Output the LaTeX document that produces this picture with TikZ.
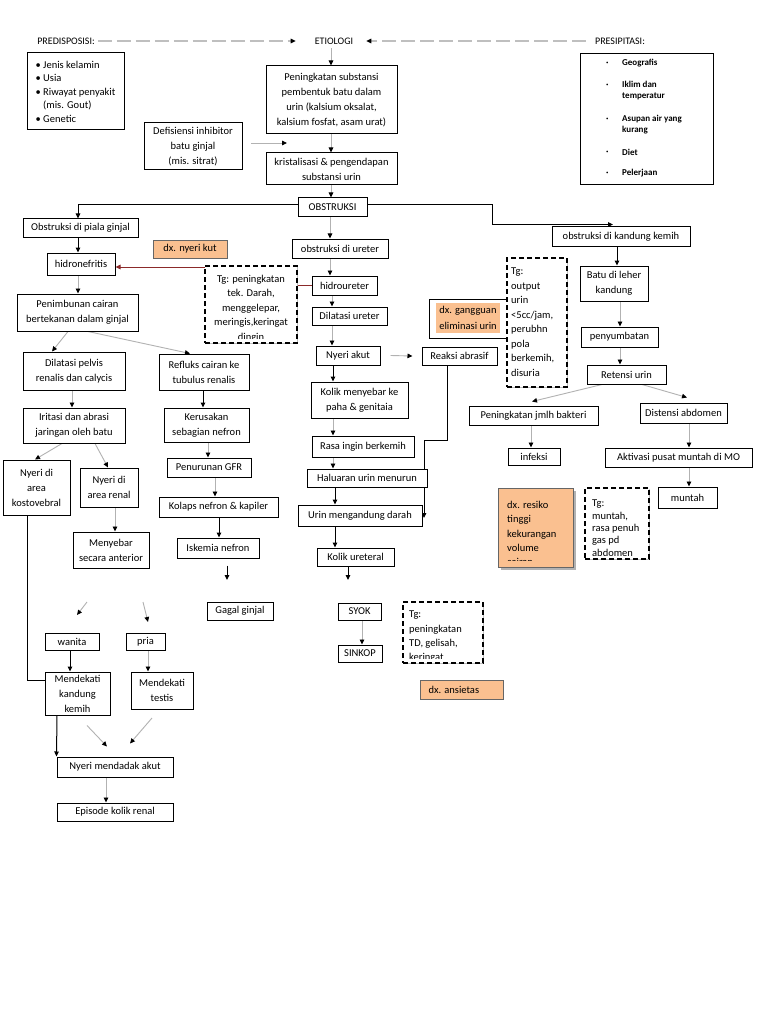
\documentclass[tikz,border=0pt]{standalone}
\usepackage{fontspec}
\setmainfont{Carlito}
\usetikzlibrary{arrows.meta,shadows}
\pgfdeclarelayer{bg}
\pgfsetlayers{bg,main}
\definecolor{peach}{HTML}{FAC090}
\definecolor{dred}{HTML}{8B2A2A}
\newcommand\fs{\fontsize{10.5}{15}\selectfont}
\newcommand\mybx[6][]{\node[box,minimum width=#4pt,minimum height=#5pt,#1] (#2) at (#3) {#6};}
\begin{document}
\begin{tikzpicture}[x=1pt,y=-1pt,
  box/.style={draw=black,line width=1pt,fill=white,inner sep=0pt,align=center,font=\fs},
  orangebox/.style={fill=peach,draw=black!60,line width=0.6pt},
  dashbox/.style={dash pattern=on 5pt off 3pt,line width=1.1pt,
     drop shadow={shadow xshift=1.2pt,shadow yshift=-1.2pt,fill=black!25,opacity=1}},
  lbl/.style={inner sep=1pt,font=\fontsize{10}{12}\selectfont},
  tip/.style={-{Triangle[length=5pt,width=4.5pt,color=black]}},
  arr/.style={draw=black,line width=1pt,tip},
  garr/.style={draw=black!30,line width=0.9pt,tip},
  gdash/.style={draw=black!25,line width=1.2pt,dash pattern=on 14pt off 5pt,tip},
  redarr/.style={draw=dred,line width=0.9pt,-{Triangle[length=5pt,width=4.5pt]}},
  plain/.style={draw=black,line width=1pt},
  tgtext/.style={inner sep=0pt,font=\fontsize{10.5}{14.5}\selectfont},
  pitem/.style={inner sep=0pt,anchor=west,font=\bfseries\fontsize{9}{11}\selectfont},
]
\useasboundingbox (0,0) rectangle (768,1024);
\begin{pgfonlayer}{bg}
\fill[white] (0,0) rectangle (768,1024);
\end{pgfonlayer}

% header labels
\node[lbl] (predl) at (66,41) {PREDISPOSISI:};
\node[lbl] (etio) at (334,41) {ETIOLOGI};
\node[lbl] (presl) at (620,41) {PRESIPITASI:};

% predisposisi box
\mybx[align=left,font=\fontsize{10.5}{13.5}\selectfont]{predbox}{75.5,91.5}{97}{77}{\textbullet\ Jenis kelamin\\ \textbullet\ Usia\\ \textbullet\ Riwayat penyakit\\ \hphantom{\textbullet\ }(mis. Gout)\\ \textbullet\ Genetic}

% presipitasi box
\mybx{presbox}{646.5,119.5}{133}{131}{}
\node[pitem] (pb1) at (606,64) {\textperiodcentered};
\node[pitem] (pb2) at (606,86) {\textperiodcentered};
\node[pitem] (pb3) at (606,120) {\textperiodcentered};
\node[pitem] (pb4) at (606,153) {\textperiodcentered};
\node[pitem] (pb5) at (606,174) {\textperiodcentered};
\node[pitem] (pi1) at (622,63) {Geografis};
\node[pitem] (pi2) at (622,84) {Iklim dan};
\node[pitem] (pi2b) at (622,96) {temperatur};
\node[pitem] (pi3) at (622,119) {Asupan air yang};
\node[pitem] (pi3b) at (622,130) {kurang};
\node[pitem] (pi4) at (622,152) {Diet};
\node[pitem] (pi5) at (622,173) {Pelerjaan};

% main column
\mybx{pen}{331.5,100}{131}{68}{Peningkatan substansi\\pembentuk batu dalam\\urin (kalsium oksalat,\\kalsium fosfat, asam urat)}
\mybx{def}{193,146.5}{98}{47}{Defisiensi inhibitor\\batu ginjal\\(mis. sitrat)}
\mybx{kri}{331.5,169}{131}{32}{kristalisasi \& pengendapan\\substansi urin}
\mybx{obs}{332.5,207.5}{69}{19}{OBSTRUKSI}

% left branch
\mybx{piala}{80.5,228}{115}{18}{Obstruksi di piala ginjal}
\mybx[orangebox]{dxn}{190,249}{74}{18}{dx. nyeri kut}
\mybx{hnf}{81,264}{68}{22}{hidronefritis}
\mybx{pnb}{77.5,312.5}{121}{37}{Penimbunan cairan\\bertekanan dalam ginjal}
\mybx{dpr}{74,371}{102}{38}{Dilatasi pelvis\\renalis dan calycis}
\mybx{ref}{204,372}{90}{36}{Refluks cairan ke\\tubulus renalis}
\mybx{iri}{74,425.5}{102}{35}{Iritasi dan abrasi\\jaringan oleh batu}
\mybx{kos}{36.5,487.5}{67}{55}{Nyeri di\\area\\kostovebral}
\mybx{ren}{109,487.5}{58}{39}{Nyeri di\\area renal}
\mybx{mny}{111,550}{76}{36}{Menyebar\\secara anterior}
\mybx{ker}{206.5,425}{85}{34}{Kerusakan\\sebagian nefron}
\mybx{gfr}{209,467.5}{84}{19}{Penurunan GFR}
\mybx{kol}{218.5,507}{119}{20}{Kolaps nefron \& kapiler}
\mybx{isk}{218,548}{82}{20}{Iskemia nefron}
\mybx{gag}{240,611}{66}{18}{Gagal ginjal}
\mybx{wan}{72,641.5}{54}{17}{wanita}
\mybx{pri}{145.5,641.5}{39}{17}{pria}
\mybx{mk}{77.5,693.5}{65}{43}{Mendekati\\kandung\\kemih}
\mybx{mt}{162,690.5}{62}{37}{Mendekati\\testis}
\mybx{nm}{115,767}{116}{20}{Nyeri mendadak akut}
\mybx{epi}{115,812}{116}{18}{Episode kolik renal}

% middle branch
\mybx{ure}{340,248.5}{96}{19}{obstruksi di ureter}
\mybx{hur}{344.5,285.5}{65}{19}{hidroureter}
\mybx{dur}{349.5,316}{75}{18}{Dilatasi ureter}
\mybx{nak}{348,355.5}{64}{19}{Nyeri akut}
\mybx{rab}{459.5,356}{75}{18}{Reaksi abrasif}
\mybx{kmk}{359.5,400}{97}{36}{Kolik menyebar ke\\paha \& genitaia}
\mybx{rib}{363,446.5}{102}{21}{Rasa ingin berkemih}
\mybx{hal}{367,478}{120}{18}{Haluaran urin menurun}
\mybx{umd}{360,515.5}{124}{21}{Urin mengandung darah}
\mybx{kur}{355.5,557}{77}{18}{Kolik ureteral}
\mybx{syk}{359.5,611.5}{43}{17}{SYOK}
\mybx{snk}{360,653.5}{44}{17}{SINKOP}
\mybx[orangebox]{dxa}{461.5,689.5}{83}{19}{\makebox[66pt][l]{dx. ansietas}}
\mybx{dxgo}{468,318.5}{78}{39}{}
\node[fill=peach,minimum width=64pt,minimum height=30pt,inner sep=0pt,align=left,font=\fontsize{10.5}{16}\selectfont] (dxg) at (468,318) {dx. gangguan\\eliminasi urin};

% right branch
\mybx{okk}{621,236.5}{138}{19}{obstruksi di kandung kemih}
\mybx{bat}{614,283.5}{68}{35}{Batu di leher\\kandung}
\mybx{pny}{619.5,337}{77}{20}{penyumbatan}
\mybx{ret}{626.5,374.5}{79}{19}{Retensi urin}
\mybx{bak}{533.5,415.5}{129}{19}{Peningkatan jmlh bakteri}
\mybx{dis}{683.5,413}{87}{20}{Distensi abdomen}
\mybx{inf}{534,456.5}{52}{17}{infeksi}
\mybx{akt}{678.5,457.5}{147}{19}{Aktivasi pusat muntah di MO}
\mybx{mun}{687.5,497.5}{59}{21}{muntah}

% dashed / clipped text boxes
\mybx[dashbox]{tg1}{251,304.5}{92}{77}{}
\begin{scope}
\clip ([shift={(1pt,-1pt)}]tg1.north west) rectangle ([shift={(-1pt,5pt)}]tg1.south east);
\node[tgtext,anchor=north,align=center] (tg1t) at (251,275) {Tg: peningkatan\\tek. Darah,\\menggelepar,\\meringis,keringat\\dingin};
\end{scope}
\mybx[dashbox]{tg2}{537,322.5}{60}{129}{}
\begin{scope}
\clip ([shift={(1pt,-1pt)}]tg2.north west) rectangle ([shift={(-1pt,1pt)}]tg2.south east);
\node[tgtext,anchor=north west,align=left] (tg2t) at (511,268) {Tg:\\output\\urin\\<5cc/jam,\\perubhn\\pola\\berkemih,\\disuria};
\end{scope}
\mybx[orangebox,drop shadow={shadow xshift=3pt,shadow yshift=-3pt,fill=black!30,opacity=1}]{dxr}{535.5,527.5}{75}{79}{}
\begin{scope}
\clip ([shift={(1pt,-1pt)}]dxr.north west) rectangle ([shift={(-1pt,7pt)}]dxr.south east);
\node[tgtext,anchor=north west,align=left,font=\fontsize{10.5}{14.3}\selectfont] (dxrt) at (507,501) {dx. resiko\\tinggi\\kekurangan\\volume\\cairan};
\end{scope}
\mybx[dashbox]{tg3}{617,523.5}{64}{71}{}
\begin{scope}
\clip ([shift={(1pt,-1pt)}]tg3.north west) rectangle ([shift={(-1pt,1pt)}]tg3.south east);
\node[tgtext,anchor=north west,align=left,font=\fontsize{10.5}{12.3}\selectfont] (tg3t) at (592,500) {Tg:\\muntah,\\rasa penuh\\gas pd\\abdomen};
\end{scope}
\mybx[dashbox]{tg4}{443,632.5}{80}{61}{}
\begin{scope}
\clip ([shift={(1pt,-1pt)}]tg4.north west) rectangle ([shift={(-1pt,5pt)}]tg4.south east);
\node[tgtext,anchor=north west,align=left,font=\fontsize{10.5}{14.2}\selectfont] (tg4t) at (409,611) {Tg:\\peningkatan\\TD, gelisah,\\keringat};
\end{scope}

% free-end coordinates
\coordinate (defa) at (251,143);
\coordinate (defb) at (287,143);
\coordinate (w1a) at (87,602);
\coordinate (w1b) at (77,615);
\coordinate (p1a) at (143,602);
\coordinate (p1b) at (148,622);
\coordinate (iske) at (227,580);
\coordinate (kure) at (348,580);
\coordinate (rabe) at (424,518);

\begin{pgfonlayer}{bg}
\draw[gdash] ([xshift=2pt]predl.east) -- ([xshift=-18pt]etio.west);
\draw[gdash] ([xshift=-8pt]presl.west) -- ([xshift=12pt]etio.east);
\draw[garr] ([xshift=-3pt,yshift=-3pt]etio.south) -- ([xshift=-0.5pt]pen.north);
\draw[garr] (defa) -- (defb);
\draw[garr] ([xshift=-0.5pt]pen.south) -- ([xshift=-0.5pt]kri.north);
\draw[garr] ([xshift=-0.5pt]kri.south) -- ([xshift=-1.5pt]obs.north);
\draw[arr] ([yshift=2.5pt]obs.west) -| ([xshift=-2.5pt]piala.north);
\draw[arr] ([yshift=2.5pt]obs.east) -- (492,205) |- ([xshift=-8pt,yshift=2pt]okk.north);
\draw[garr] ([xshift=-2.5pt]obs.south) -- ([xshift=-10pt]ure.north);
\draw[arr] ([xshift=-2.5pt]piala.south) -- ([xshift=-3pt]hnf.north);
\draw[redarr] (hur.west) -- (250,285.5) |- ([yshift=-3pt]hnf.east);
\draw[garr] ([xshift=-3pt]hnf.south) -- ([xshift=0.5pt]pnb.north);
\draw[garr] ([xshift=-9.5pt]pnb.south) -- ([xshift=-22pt]dpr.north);
\draw[garr] ([xshift=10.5pt]pnb.south) -- ([xshift=-14pt]ref.north);
\draw[garr] ([xshift=-2pt]dpr.south) -- ([xshift=-2pt]iri.north);
\draw[garr] ([xshift=-12pt]iri.south) -- ([xshift=-1.5pt]kos.north);
\draw[garr] ([xshift=21pt]iri.south) -- ([xshift=-1pt]ren.north);
\draw[garr] ([xshift=6pt]ren.south) -- ([xshift=4pt]mny.north);
\draw[plain] ([xshift=-9.5pt]kos.south) |- ([yshift=13.5pt]mk.west);
\draw[arr] ([xshift=-2pt]wan.south) -- ([xshift=-7.5pt]mk.north);
\draw[garr] ([xshift=2.5pt]pri.south) -- ([xshift=-14pt]mt.north);
\draw[garr] (w1a) -- (w1b);
\draw[garr] (p1a) -- (p1b);
\draw[garr] ([xshift=9.5pt,yshift=-10pt]mk.south) -- ([xshift=-8pt,yshift=10pt]nm.north);
\draw[garr] ([xshift=-10pt,yshift=-8.5pt]mt.south) -- ([xshift=15pt,yshift=13pt]nm.north);
\draw[arr] ([xshift=-20.5pt]mk.south) -- (nm.north west);
\draw[garr] ([xshift=-9pt]nm.south) -- ([xshift=-9pt]epi.north);
\draw[arr] ([xshift=-1pt]ref.south) -- ([xshift=-3.5pt]ker.north);
\draw[garr] ([xshift=1.5pt]ker.south) -- ([xshift=-1pt]gfr.north);
\draw[garr] ([xshift=6pt]gfr.south) -- ([xshift=-3.5pt]kol.north);
\draw[arr] ([xshift=0.5pt]kol.south) -- ([xshift=1pt]isk.north);
\draw[arr] ([xshift=9pt,yshift=-7pt]isk.south) -- (iske);
\draw[garr] ([xshift=-10pt]ure.south) -- ([xshift=-14.5pt]hur.north);
\draw[garr] ([xshift=-12.5pt]hur.south) -- ([xshift=-17.5pt]dur.north);
\draw[garr] ([xshift=-17.5pt]dur.south) -- ([xshift=-16pt]nak.north);
\draw[garr] ([xshift=10pt]nak.east) -- ([xshift=-9pt]rab.west);
\draw[arr] ([xshift=-15pt]nak.south) -- ([xshift=-26.5pt]kmk.north);
\draw[garr] ([xshift=-26.5pt]kmk.south) -- ([xshift=-30pt]rib.north);
\draw[garr] ([xshift=-30pt]rib.south) -- ([xshift=-34pt]hal.north);
\draw[arr] ([xshift=-32pt]hal.south) -- ([xshift=-25pt]umd.north);
\draw[arr] ([xshift=-25pt]umd.south) -- ([xshift=-20.5pt]kur.north);
\draw[arr] ([xshift=-7.5pt]kur.south) -- (kure);
\draw[garr] ([xshift=2.5pt]syk.south) -- ([xshift=2pt]snk.north);
\draw[arr] ([xshift=-12.5pt]rab.south) -- (447,440) -- (424,440) -- (rabe);
\draw[arr] ([xshift=-4pt]okk.south) -- ([xshift=3pt]bat.north);
\draw[garr] ([xshift=6pt]bat.south) -- ([xshift=0.5pt]pny.north);
\draw[garr] ([xshift=0.5pt]pny.south) -- ([xshift=-6.5pt]ret.north);
\draw[garr] ([xshift=-24.5pt]ret.south) -- ([xshift=-1.5pt,yshift=4pt]bak.north);
\draw[garr] ([xshift=15.5pt]ret.south) -- ([xshift=3.5pt,yshift=5pt]dis.north);
\draw[garr] ([xshift=-2.5pt]bak.south) -- ([xshift=-3pt]inf.north);
\draw[garr] ([xshift=5.5pt]dis.south) -- ([xshift=10.5pt]akt.north);
\draw[garr] ([xshift=10.5pt]akt.south) -- ([xshift=1.5pt]mun.north);
\end{pgfonlayer}
\end{tikzpicture}
\end{document}
